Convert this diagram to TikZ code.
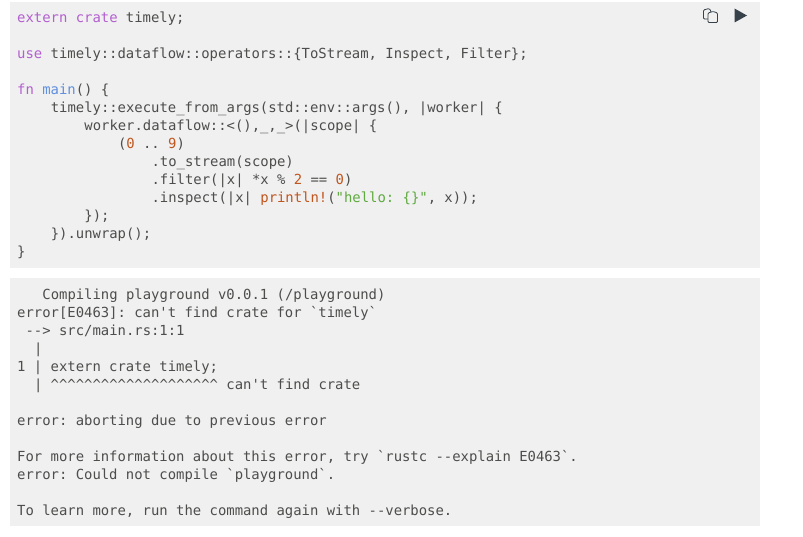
\documentclass[tikz,border=0pt]{standalone}
\usepackage{fontspec}
\usepackage{xcolor}
\newfontfamily\codefont{DejaVu Sans Mono}
\definecolor{panelgray}{HTML}{F0F0F0}
\definecolor{codetext}{HTML}{4D4D4C}
\definecolor{codekeyword}{HTML}{B35FD0}
\definecolor{codefn}{HTML}{5F8FDF}
\definecolor{codenum}{HTML}{C0561E}
\definecolor{codestr}{HTML}{5FAA40}
\definecolor{iconfill}{HTML}{364149}
\newcommand{\kw}[1]{\textcolor{codekeyword}{#1}}
\newcommand{\fnname}[1]{\textcolor{codefn}{#1}}
\newcommand{\num}[1]{\textcolor{codenum}{#1}}
\newcommand{\str}[1]{\textcolor{codestr}{#1}}
\newcommand{\crt}{\textasciicircum}
\tikzset{
panel/.style={fill=panelgray, draw=none, inner sep=0, minimum width=750pt, anchor=north west},
codeline/.style={anchor=base west, inner sep=0, text=codetext, font=\codefont\fontsize{13.9pt}{18pt}\selectfont\frenchspacing}
}

\begin{document}
\begin{tikzpicture}[x=1pt,y=-1pt]
\useasboundingbox (0,0) rectangle (803,537);

% Panels
\node[panel, minimum height=266pt] (code_panel) at (10,2) {};
\node[panel, minimum height=248pt] (output_panel) at (10,278) {};

% Icons
\draw[iconfill, line width=0.8pt, fill=panelgray, rounded corners=1pt] (703.5,10) -- (709,8.5) -- (711,11) -- (711,19) -- (703.5,19) -- cycle;
\draw[iconfill, line width=0.8pt, fill=panelgray, rounded corners=1pt] (708,13) -- (713,11.5) -- (717.5,13) -- (717.5,22.5) -- (708,22.5) -- cycle;
\fill[iconfill] (734.5,8.5) -- (747,15.5) -- (734.5,22.5) -- cycle;

% Code
\node[codeline] (extern_line) at (17,23) {\kw{extern} \kw{crate} timely;};
\node[codeline] (use_line) at (17,59) {\kw{use} timely::dataflow::operators::\{ToStream, Inspect, Filter\};};
\node[codeline] (main_line) at (17,95) {\kw{fn} \fnname{main}() \{};
\node[codeline] (execute_line) at (50.6,113) {timely::execute\_from\_args(std::env::args(), |worker| \{};
\node[codeline] (worker_line) at (84.2,131) {worker.dataflow::<(),\_,\_>(|scope| \{};
\node[codeline] (range_line) at (117.8,149) {(\num{0} .. \num{9})};
\node[codeline] (stream_line) at (151.4,167) {.to\_stream(scope)};
\node[codeline] (filter_line) at (151.4,185) {.filter(|x| *x \% \num{2} == \num{0})};
\node[codeline] (inspect_line) at (151.4,203) {.inspect(|x| \num{println!}(\str{"hello: \{\}"}, x));};
\node[codeline] (scope_end) at (84.2,221) {\});};
\node[codeline] (unwrap_line) at (50.6,239) {\}).unwrap();};
\node[codeline] (main_end) at (17,257) {\}};

% Output
\node[codeline] (compiling_line) at (42.2,299) {Compiling playground v0.0.1 (/playground)};
\node[codeline] (error_line) at (17,317) {error[E0463]: can't find crate for `timely`};
\node[codeline] (path_line) at (25.4,335) {--> src/main.rs:1:1};
\node[codeline] (bar_line) at (33.8,353) {|};
\node[codeline] (source_line) at (17,371) {1 | extern crate timely;};
\node[codeline] (caret_line) at (33.8,389) {| \crt\crt\crt\crt\crt\crt\crt\crt\crt\crt\crt\crt\crt\crt\crt\crt\crt\crt\crt\crt{} can't find crate};
\node[codeline] (abort_line) at (17,425) {error: aborting due to previous error};
\node[codeline] (info_line) at (17,461) {For more information about this error, try `rustc --explain E0463`.};
\node[codeline] (compile_line) at (17,479) {error: Could not compile `playground`.};
\node[codeline] (learn_line) at (17,515) {To learn more, run the command again with --verbose.};

\end{tikzpicture}
\end{document}
